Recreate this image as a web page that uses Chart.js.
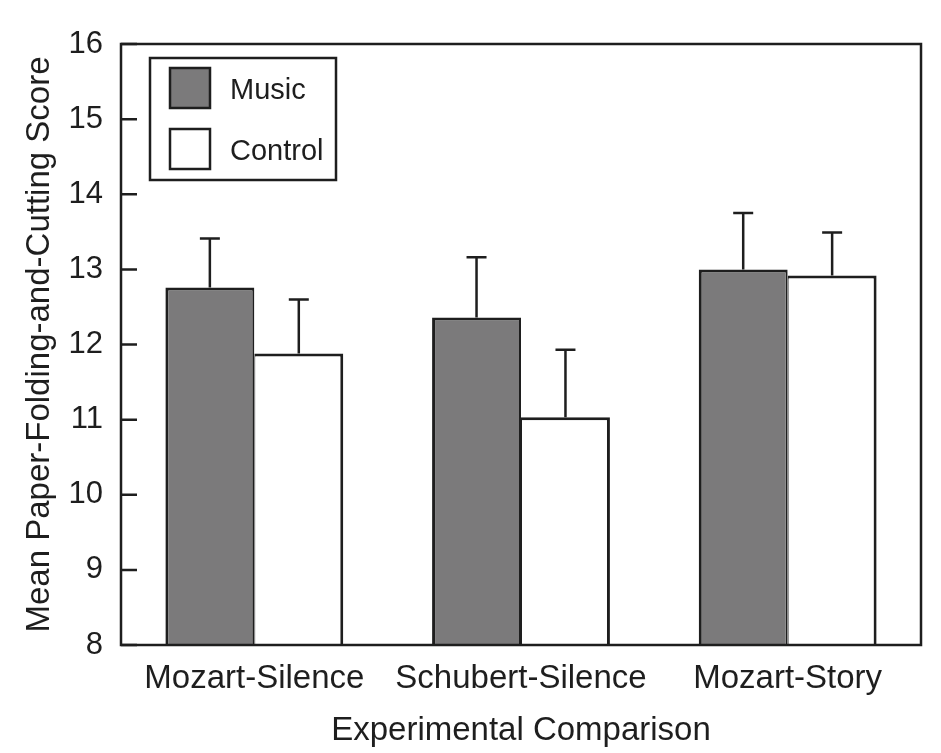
<!DOCTYPE html>
<html>
<head>
<meta charset="utf-8">
<script src="https://cdn.jsdelivr.net/npm/chart.js@4.4.1/dist/chart.umd.min.js"></script>
<style>
  html, body { margin: 0; padding: 0; background: #fff; }
  #wrap { width: 941px; height: 753px; }
</style>
</head>
<body>
<div id="wrap"><canvas id="paperChart"></canvas></div>
<script>
const labels = ["Mozart-Silence", "Schubert-Silence", "Mozart-Story"];
const musicMeans = [12.76, 12.36, 13.0];
const musicErrors = [0.65, 0.80, 0.75];
const controlMeans = [11.88, 11.03, 12.92];
const controlErrors = [0.72, 0.90, 0.57];
const yTicks = [8, 9, 10, 11, 12, 13, 14, 15, 16];

const FONT = "'Liberation Sans', Arial, Helvetica, sans-serif";
const INK = "#1e1e1e";

// error bars (upper half only) drawn off the bar elements
const errorBars = {
  id: 'errorBars',
  afterDatasetsDraw(chart) {
    const ctx = chart.ctx;
    const y = chart.scales.y;
    ctx.save();
    ctx.strokeStyle = INK;
    ctx.lineWidth = 2.5;
    chart.data.datasets.forEach(function (ds, di) {
      const meta = chart.getDatasetMeta(di);
      meta.data.forEach(function (bar, i) {
        const top = y.getPixelForValue(ds.data[i] + ds.errors[i]);
        ctx.beginPath();
        ctx.moveTo(bar.x, bar.y);
        ctx.lineTo(bar.x, top);
        ctx.moveTo(bar.x - 10, top);
        ctx.lineTo(bar.x + 10, top);
        ctx.stroke();
      });
    });
    ctx.restore();
  }
};

// frame, inner ticks and the boxed legend
const frame = {
  id: 'frame',
  afterDraw(chart) {
    const ctx = chart.ctx;
    const a = chart.chartArea;
    const y = chart.scales.y;
    ctx.save();
    ctx.strokeStyle = INK;
    ctx.lineWidth = 2.5;
    ctx.strokeRect(a.left, a.top, a.right - a.left, a.bottom - a.top);
    ctx.beginPath();
    yTicks.forEach(function (v) {
      const py = y.getPixelForValue(v);
      ctx.moveTo(a.left, py);
      ctx.lineTo(a.left + 16, py);
    });
    ctx.stroke();

    // legend
    const lx = a.left + 29, ly = a.top + 14;
    ctx.strokeRect(lx, ly, 186, 122);
    ctx.font = "29px " + FONT;
    ctx.textBaseline = 'middle';
    chart.data.datasets.forEach(function (ds, di) {
      const sy = ly + 10 + di * 61;
      ctx.fillStyle = ds.backgroundColor;
      ctx.fillRect(lx + 20, sy, 40, 40);
      ctx.strokeRect(lx + 20, sy, 40, 40);
      ctx.fillStyle = INK;
      ctx.fillText(ds.label, lx + 80, sy + 23);
    });
    ctx.restore();
  }
};

function displayChart() {
  const CANVAS = document.getElementById("paperChart");
  let paperChart = new Chart(CANVAS, {
    type: 'bar',
    data: {
      labels: labels,
      datasets: [{
        label: "Music",
        data: musicMeans,
        errors: musicErrors,
        backgroundColor: "#7b7a7b",
        borderColor: INK,
        borderWidth: { top: 3, left: 3, right: 2, bottom: 0 },
        categoryPercentage: 0.667,
        barPercentage: 1.0
      }, {
        label: "Control",
        data: controlMeans,
        errors: controlErrors,
        backgroundColor: "#ffffff",
        borderColor: INK,
        borderWidth: { top: 3, left: 1, right: 3, bottom: 0 },
        categoryPercentage: 0.667,
        barPercentage: 1.0
      }]
    },
    options: {
      responsive: false,
      animation: false,
      devicePixelRatio: 1,
      layout: { padding: { left: 0, right: 20, top: 44, bottom: 0 } },
      plugins: {
        legend: { display: false },
        tooltip: { enabled: false }
      },
      scales: {
        x: {
          grid: { display: false },
          border: { display: false },
          ticks: { color: INK, font: { family: FONT, size: 33 }, padding: 6 },
          title: { display: true, text: "Experimental Comparison", color: INK,
                   font: { family: FONT, size: 33 }, padding: { top: 0, bottom: 2 } },
          afterFit: function (s) { s.height = 108; }
        },
        y: {
          min: 8,
          max: 16,
          afterBuildTicks: function (s) { s.ticks = yTicks.map(function (v) { return { value: v }; }); },
          grid: { display: false },
          border: { display: false },
          ticks: { color: INK, font: { family: FONT, size: 31 }, padding: 10 },
          title: { display: true, text: "Mean Paper-Folding-and-Cutting Score", color: INK,
                   font: { family: FONT, size: 33 }, padding: { top: 20, bottom: 0 } },
          afterFit: function (s) { s.width = 121; }
        }
      }
    },
    plugins: [errorBars, frame]
  });
}

const cv = document.getElementById("paperChart");
cv.width = 941;
cv.height = 753;
displayChart();
</script>
</body>
</html>
